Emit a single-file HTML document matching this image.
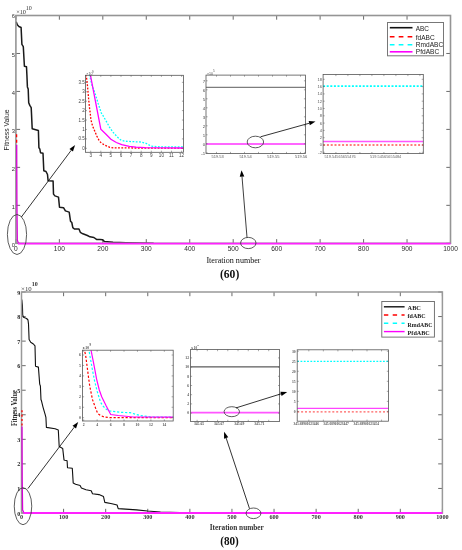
<!DOCTYPE html>
<html><head><meta charset="utf-8"><title>Fitness Value vs Iteration number</title>
<style>html,body{margin:0;padding:0;background:#fff;}svg{display:block;}</style></head>
<body><svg width="462" height="550" viewBox="0 0 462 550">
<rect width="462" height="550" fill="#fff"/>
<line x1="15.9" y1="243.3" x2="15.9" y2="239.1" stroke="#6a6a6a" stroke-width="1.0" />
<line x1="15.9" y1="15.5" x2="15.9" y2="19.7" stroke="#6a6a6a" stroke-width="1.0" />
<line x1="59.36" y1="243.3" x2="59.36" y2="239.1" stroke="#6a6a6a" stroke-width="1.0" />
<line x1="59.36" y1="15.5" x2="59.36" y2="19.7" stroke="#6a6a6a" stroke-width="1.0" />
<line x1="102.82" y1="243.3" x2="102.82" y2="239.1" stroke="#6a6a6a" stroke-width="1.0" />
<line x1="102.82" y1="15.5" x2="102.82" y2="19.7" stroke="#6a6a6a" stroke-width="1.0" />
<line x1="146.28" y1="243.3" x2="146.28" y2="239.1" stroke="#6a6a6a" stroke-width="1.0" />
<line x1="146.28" y1="15.5" x2="146.28" y2="19.7" stroke="#6a6a6a" stroke-width="1.0" />
<line x1="189.74" y1="243.3" x2="189.74" y2="239.1" stroke="#6a6a6a" stroke-width="1.0" />
<line x1="189.74" y1="15.5" x2="189.74" y2="19.7" stroke="#6a6a6a" stroke-width="1.0" />
<line x1="233.2" y1="243.3" x2="233.2" y2="239.1" stroke="#6a6a6a" stroke-width="1.0" />
<line x1="233.2" y1="15.5" x2="233.2" y2="19.7" stroke="#6a6a6a" stroke-width="1.0" />
<line x1="276.66" y1="243.3" x2="276.66" y2="239.1" stroke="#6a6a6a" stroke-width="1.0" />
<line x1="276.66" y1="15.5" x2="276.66" y2="19.7" stroke="#6a6a6a" stroke-width="1.0" />
<line x1="320.12" y1="243.3" x2="320.12" y2="239.1" stroke="#6a6a6a" stroke-width="1.0" />
<line x1="320.12" y1="15.5" x2="320.12" y2="19.7" stroke="#6a6a6a" stroke-width="1.0" />
<line x1="363.58" y1="243.3" x2="363.58" y2="239.1" stroke="#6a6a6a" stroke-width="1.0" />
<line x1="363.58" y1="15.5" x2="363.58" y2="19.7" stroke="#6a6a6a" stroke-width="1.0" />
<line x1="407.04" y1="243.3" x2="407.04" y2="239.1" stroke="#6a6a6a" stroke-width="1.0" />
<line x1="407.04" y1="15.5" x2="407.04" y2="19.7" stroke="#6a6a6a" stroke-width="1.0" />
<line x1="450.5" y1="243.3" x2="450.5" y2="239.1" stroke="#6a6a6a" stroke-width="1.0" />
<line x1="450.5" y1="15.5" x2="450.5" y2="19.7" stroke="#6a6a6a" stroke-width="1.0" />
<line x1="15.9" y1="243.3" x2="20.1" y2="243.3" stroke="#6a6a6a" stroke-width="1.0" />
<line x1="450.5" y1="243.3" x2="446.3" y2="243.3" stroke="#6a6a6a" stroke-width="1.0" />
<line x1="15.9" y1="205.33" x2="20.1" y2="205.33" stroke="#6a6a6a" stroke-width="1.0" />
<line x1="450.5" y1="205.33" x2="446.3" y2="205.33" stroke="#6a6a6a" stroke-width="1.0" />
<line x1="15.9" y1="167.37" x2="20.1" y2="167.37" stroke="#6a6a6a" stroke-width="1.0" />
<line x1="450.5" y1="167.37" x2="446.3" y2="167.37" stroke="#6a6a6a" stroke-width="1.0" />
<line x1="15.9" y1="129.4" x2="20.1" y2="129.4" stroke="#6a6a6a" stroke-width="1.0" />
<line x1="450.5" y1="129.4" x2="446.3" y2="129.4" stroke="#6a6a6a" stroke-width="1.0" />
<line x1="15.9" y1="91.43" x2="20.1" y2="91.43" stroke="#6a6a6a" stroke-width="1.0" />
<line x1="450.5" y1="91.43" x2="446.3" y2="91.43" stroke="#6a6a6a" stroke-width="1.0" />
<line x1="15.9" y1="53.47" x2="20.1" y2="53.47" stroke="#6a6a6a" stroke-width="1.0" />
<line x1="450.5" y1="53.47" x2="446.3" y2="53.47" stroke="#6a6a6a" stroke-width="1.0" />
<line x1="15.9" y1="15.5" x2="20.1" y2="15.5" stroke="#6a6a6a" stroke-width="1.0" />
<line x1="450.5" y1="15.5" x2="446.3" y2="15.5" stroke="#6a6a6a" stroke-width="1.0" />
<path d="M16.2 21.8 L17.3 24.8 L18.9 26.5 L21.1 27.5 L21.9 44.4 L23.3 46.6 L24.4 66.3 L26.5 66.8 L26.9 75 L27.4 86.9 L28.2 89.1 L28.7 102.7 L29.8 105.4 L31.2 107.6 L31.5 113.6 L32.2 128.8 L38.4 130.4 L38.9 147.8 L39.8 148.9 L40.5 152.7 L43 153.3 L43.8 170.7 L46 171.5 L47.5 174.5 L48.1 180.7 L53.1 181.1 L53.5 194.1 L54.9 195.9 L58.5 197.1 L59.5 207.3 L63.5 207.7 L65.4 210.9 L69.2 212.1 L70.5 221.2 L71.8 222.5 L72.8 227.7 L74.4 229 L79 229 L80.3 232.3 L82.9 233.8 L87.4 235.5 L90 236.8 L93.9 237.5 L96.5 239.4 L100 239.5 L102.6 239.7 L104.3 241.4 L113 242.3 L126 242.7 L139.8 243 L153.7 243.2" fill="none" stroke="#1a1a1a" stroke-width="1.5" stroke-linejoin="round"/>
<rect x="15.9" y="15.5" width="434.6" height="227.8" fill="none" stroke="#959595" stroke-width="1.6"/>
<path d="M16.6 134.2 L16.7 145.3" fill="none" stroke="#ff0000" stroke-width="1.3" stroke-dasharray="3 2.5"/>
<path d="M16.7 144.8 L16.9 200 L17.3 240 L18.5 243.6" fill="none" stroke="#d800d8" stroke-width="1.3" />
<line x1="18" y1="243.6" x2="450.5" y2="243.6" stroke="#ff22ff" stroke-width="1.9" />
<text x="13.4" y="246.5" font-size="5.8" font-family="'Liberation Sans', Arial, sans-serif" text-anchor="middle" font-weight="normal" fill="#333" >0</text>
<text x="13.4" y="208.53" font-size="5.8" font-family="'Liberation Sans', Arial, sans-serif" text-anchor="middle" font-weight="normal" fill="#333" >1</text>
<text x="13.4" y="170.57" font-size="5.8" font-family="'Liberation Sans', Arial, sans-serif" text-anchor="middle" font-weight="normal" fill="#333" >2</text>
<text x="13.4" y="132.6" font-size="5.8" font-family="'Liberation Sans', Arial, sans-serif" text-anchor="middle" font-weight="normal" fill="#333" >3</text>
<text x="13.4" y="94.63" font-size="5.8" font-family="'Liberation Sans', Arial, sans-serif" text-anchor="middle" font-weight="normal" fill="#333" >4</text>
<text x="13.4" y="56.67" font-size="5.8" font-family="'Liberation Sans', Arial, sans-serif" text-anchor="middle" font-weight="normal" fill="#333" >5</text>
<text x="13.4" y="17.9" font-size="5.8" font-family="'Liberation Sans', Arial, sans-serif" text-anchor="middle" font-weight="normal" fill="#333" >6</text>
<text x="15.9" y="251.1" font-size="6.6" font-family="'Liberation Sans', Arial, sans-serif" text-anchor="middle" font-weight="normal" fill="#2a2a2a" >0</text>
<text x="59.36" y="251.1" font-size="6.6" font-family="'Liberation Sans', Arial, sans-serif" text-anchor="middle" font-weight="normal" fill="#2a2a2a" >100</text>
<text x="102.82" y="251.1" font-size="6.6" font-family="'Liberation Sans', Arial, sans-serif" text-anchor="middle" font-weight="normal" fill="#2a2a2a" >200</text>
<text x="146.28" y="251.1" font-size="6.6" font-family="'Liberation Sans', Arial, sans-serif" text-anchor="middle" font-weight="normal" fill="#2a2a2a" >300</text>
<text x="189.74" y="251.1" font-size="6.6" font-family="'Liberation Sans', Arial, sans-serif" text-anchor="middle" font-weight="normal" fill="#2a2a2a" >400</text>
<text x="233.2" y="251.1" font-size="6.6" font-family="'Liberation Sans', Arial, sans-serif" text-anchor="middle" font-weight="normal" fill="#2a2a2a" >500</text>
<text x="276.66" y="251.1" font-size="6.6" font-family="'Liberation Sans', Arial, sans-serif" text-anchor="middle" font-weight="normal" fill="#2a2a2a" >600</text>
<text x="320.12" y="251.1" font-size="6.6" font-family="'Liberation Sans', Arial, sans-serif" text-anchor="middle" font-weight="normal" fill="#2a2a2a" >700</text>
<text x="363.58" y="251.1" font-size="6.6" font-family="'Liberation Sans', Arial, sans-serif" text-anchor="middle" font-weight="normal" fill="#2a2a2a" >800</text>
<text x="407.04" y="251.1" font-size="6.6" font-family="'Liberation Sans', Arial, sans-serif" text-anchor="middle" font-weight="normal" fill="#2a2a2a" >900</text>
<text x="450.5" y="251.1" font-size="6.6" font-family="'Liberation Sans', Arial, sans-serif" text-anchor="middle" font-weight="normal" fill="#2a2a2a" >1000</text>
<text x="21.1" y="14.3" font-size="6.3" font-family="'Liberation Serif', 'Times New Roman', serif" text-anchor="middle" font-weight="normal" fill="#333" >&#215;10</text>
<text x="28.8" y="9.8" font-size="6" font-family="'Liberation Serif', 'Times New Roman', serif" text-anchor="middle" font-weight="normal" fill="#333" >10</text>
<text x="9.4" y="130" font-size="6.8" font-family="'Liberation Sans', Arial, sans-serif" text-anchor="middle" font-weight="normal" fill="#222" transform="rotate(-90 9.4 130)" textLength="41" lengthAdjust="spacingAndGlyphs">Fitness Value</text>
<text x="233.5" y="263" font-size="8.1" font-family="'Liberation Serif', 'Times New Roman', serif" text-anchor="middle" font-weight="normal" fill="#111" >Iteration number</text>
<text x="229.6" y="278" font-size="11.6" font-family="'Liberation Serif', 'Times New Roman', serif" text-anchor="middle" font-weight="bold" fill="#111" >(60)</text>
<rect x="387.5" y="22.5" width="56" height="33.3" fill="#fff" stroke="#777" stroke-width="1.0"/>
<line x1="389.8" y1="27.7" x2="412.5" y2="27.7" stroke="#111" stroke-width="1.6" />
<text x="415.8" y="30.6" font-size="6.3" font-family="'Liberation Sans', Arial, sans-serif" text-anchor="start" font-weight="normal" fill="#1a1a1a" textLength="13.2" lengthAdjust="spacingAndGlyphs">ABC</text>
<line x1="389.8" y1="36.8" x2="412.5" y2="36.8" stroke="#ff0000" stroke-width="1.6" stroke-dasharray="4.7 4.2"/>
<text x="415.8" y="39.8" font-size="6.3" font-family="'Liberation Sans', Arial, sans-serif" text-anchor="start" font-weight="normal" fill="#1a1a1a" textLength="18.9" lengthAdjust="spacingAndGlyphs">fdABC</text>
<line x1="389.8" y1="44.7" x2="412.5" y2="44.7" stroke="#00ffff" stroke-width="1.6" stroke-dasharray="4.7 4.2"/>
<text x="415.8" y="46.9" font-size="6.3" font-family="'Liberation Sans', Arial, sans-serif" text-anchor="start" font-weight="normal" fill="#1a1a1a" textLength="27.4" lengthAdjust="spacingAndGlyphs">RmdABC</text>
<line x1="389.8" y1="51.8" x2="412.5" y2="51.8" stroke="#ff00ff" stroke-width="1.6" />
<text x="415.8" y="53.7" font-size="6.3" font-family="'Liberation Sans', Arial, sans-serif" text-anchor="start" font-weight="normal" fill="#1a1a1a" textLength="23.5" lengthAdjust="spacingAndGlyphs">PfdABC</text>
<ellipse cx="17" cy="234.5" rx="9.6" ry="20" fill="none" stroke="#333" stroke-width="0.8"/>
<line x1="21.4" y1="217" x2="71.21" y2="150.31" stroke="#000" stroke-width="0.8" />
<path d="M75.1 145.1 L72.97 151.62 L69.45 148.99 Z" fill="#000"/>
<ellipse cx="248.3" cy="243" rx="7.7" ry="5.6" fill="none" stroke="#333" stroke-width="0.8"/>
<line x1="247" y1="237.4" x2="242.01" y2="176.58" stroke="#000" stroke-width="0.75" />
<path d="M241.5 170.3 L244.31 176.39 L239.72 176.77 Z" fill="#000"/>
<rect x="85.4" y="75.3" width="98.1" height="77" fill="#fff"/>
<clipPath id="c1"><rect x="85.4" y="75.3" width="98.1" height="77"/></clipPath>
<g clip-path="url(#c1)">
<path d="M86 74.5 L86.9 80.1 L87.6 87 L88.2 94.3 L88.9 101.7 L89.6 108.6 L90.1 112.1 L90.9 119.7 L92.5 125.7 L94.7 131.1 L96.8 136 L99 140.3 L101.2 143 L104.9 145.2 L109.8 147.3 L114.1 147.9 L184 148.2" fill="none" stroke="#ff0000" stroke-width="1.3" stroke-dasharray="1.8 1.5"/>
<path d="M89.4 74.5 L90.5 79.2 L92.2 86.1 L94 90.5 L95.3 94.3 L97 99.5 L98.3 103.9 L99.6 107.8 L101.3 113 L102.2 114.3 L106 120.8 L109.3 126.8 L112.5 131.6 L117.4 137.1 L121.2 140.3 L125 141.2 L131.5 141.6 L141 142 L146 143.3 L151 146.1 L161 146.9 L184 147" fill="none" stroke="#00ffff" stroke-width="1.3" stroke-dasharray="1.8 1.5"/>
<path d="M90.3 74.5 L100.8 129.2 L105.5 133.8 L110.9 139.2 L116.3 142.5 L121.7 144.6 L129.3 146.3 L136 147.1 L145 147.7 L184 148" fill="none" stroke="#ff00ff" stroke-width="1.3" />
</g>
<rect x="85.4" y="75.3" width="98.1" height="77" fill="none" stroke="#555" stroke-width="0.8"/>
<line x1="90.7" y1="152.3" x2="90.7" y2="150.7" stroke="#555" stroke-width="0.5" />
<line x1="90.7" y1="75.3" x2="90.7" y2="76.9" stroke="#555" stroke-width="0.5" />
<text x="90.7" y="157.4" font-size="4.6" font-family="'Liberation Sans', Arial, sans-serif" text-anchor="middle" font-weight="normal" fill="#444" >3</text>
<line x1="100.8" y1="152.3" x2="100.8" y2="150.7" stroke="#555" stroke-width="0.5" />
<line x1="100.8" y1="75.3" x2="100.8" y2="76.9" stroke="#555" stroke-width="0.5" />
<text x="100.8" y="157.4" font-size="4.6" font-family="'Liberation Sans', Arial, sans-serif" text-anchor="middle" font-weight="normal" fill="#444" >4</text>
<line x1="110.9" y1="152.3" x2="110.9" y2="150.7" stroke="#555" stroke-width="0.5" />
<line x1="110.9" y1="75.3" x2="110.9" y2="76.9" stroke="#555" stroke-width="0.5" />
<text x="110.9" y="157.4" font-size="4.6" font-family="'Liberation Sans', Arial, sans-serif" text-anchor="middle" font-weight="normal" fill="#444" >5</text>
<line x1="121" y1="152.3" x2="121" y2="150.7" stroke="#555" stroke-width="0.5" />
<line x1="121" y1="75.3" x2="121" y2="76.9" stroke="#555" stroke-width="0.5" />
<text x="121" y="157.4" font-size="4.6" font-family="'Liberation Sans', Arial, sans-serif" text-anchor="middle" font-weight="normal" fill="#444" >6</text>
<line x1="131.1" y1="152.3" x2="131.1" y2="150.7" stroke="#555" stroke-width="0.5" />
<line x1="131.1" y1="75.3" x2="131.1" y2="76.9" stroke="#555" stroke-width="0.5" />
<text x="131.1" y="157.4" font-size="4.6" font-family="'Liberation Sans', Arial, sans-serif" text-anchor="middle" font-weight="normal" fill="#444" >7</text>
<line x1="141.2" y1="152.3" x2="141.2" y2="150.7" stroke="#555" stroke-width="0.5" />
<line x1="141.2" y1="75.3" x2="141.2" y2="76.9" stroke="#555" stroke-width="0.5" />
<text x="141.2" y="157.4" font-size="4.6" font-family="'Liberation Sans', Arial, sans-serif" text-anchor="middle" font-weight="normal" fill="#444" >8</text>
<line x1="151.3" y1="152.3" x2="151.3" y2="150.7" stroke="#555" stroke-width="0.5" />
<line x1="151.3" y1="75.3" x2="151.3" y2="76.9" stroke="#555" stroke-width="0.5" />
<text x="151.3" y="157.4" font-size="4.6" font-family="'Liberation Sans', Arial, sans-serif" text-anchor="middle" font-weight="normal" fill="#444" >9</text>
<line x1="161.4" y1="152.3" x2="161.4" y2="150.7" stroke="#555" stroke-width="0.5" />
<line x1="161.4" y1="75.3" x2="161.4" y2="76.9" stroke="#555" stroke-width="0.5" />
<text x="161.4" y="157.4" font-size="4.6" font-family="'Liberation Sans', Arial, sans-serif" text-anchor="middle" font-weight="normal" fill="#444" >10</text>
<line x1="171.5" y1="152.3" x2="171.5" y2="150.7" stroke="#555" stroke-width="0.5" />
<line x1="171.5" y1="75.3" x2="171.5" y2="76.9" stroke="#555" stroke-width="0.5" />
<text x="171.5" y="157.4" font-size="4.6" font-family="'Liberation Sans', Arial, sans-serif" text-anchor="middle" font-weight="normal" fill="#444" >11</text>
<line x1="181.6" y1="152.3" x2="181.6" y2="150.7" stroke="#555" stroke-width="0.5" />
<line x1="181.6" y1="75.3" x2="181.6" y2="76.9" stroke="#555" stroke-width="0.5" />
<text x="181.6" y="157.4" font-size="4.6" font-family="'Liberation Sans', Arial, sans-serif" text-anchor="middle" font-weight="normal" fill="#444" >12</text>
<line x1="85.4" y1="148.3" x2="87" y2="148.3" stroke="#555" stroke-width="0.5" />
<line x1="183.5" y1="148.3" x2="181.9" y2="148.3" stroke="#555" stroke-width="0.5" />
<text x="84.8" y="149.9" font-size="4.5" font-family="'Liberation Sans', Arial, sans-serif" text-anchor="end" font-weight="normal" fill="#444" >0</text>
<line x1="85.4" y1="138.88" x2="87" y2="138.88" stroke="#555" stroke-width="0.5" />
<line x1="183.5" y1="138.88" x2="181.9" y2="138.88" stroke="#555" stroke-width="0.5" />
<text x="84.8" y="140.47" font-size="4.5" font-family="'Liberation Sans', Arial, sans-serif" text-anchor="end" font-weight="normal" fill="#444" >0.5</text>
<line x1="85.4" y1="129.45" x2="87" y2="129.45" stroke="#555" stroke-width="0.5" />
<line x1="183.5" y1="129.45" x2="181.9" y2="129.45" stroke="#555" stroke-width="0.5" />
<text x="84.8" y="131.05" font-size="4.5" font-family="'Liberation Sans', Arial, sans-serif" text-anchor="end" font-weight="normal" fill="#444" >1</text>
<line x1="85.4" y1="120.03" x2="87" y2="120.03" stroke="#555" stroke-width="0.5" />
<line x1="183.5" y1="120.03" x2="181.9" y2="120.03" stroke="#555" stroke-width="0.5" />
<text x="84.8" y="121.62" font-size="4.5" font-family="'Liberation Sans', Arial, sans-serif" text-anchor="end" font-weight="normal" fill="#444" >1.5</text>
<line x1="85.4" y1="110.6" x2="87" y2="110.6" stroke="#555" stroke-width="0.5" />
<line x1="183.5" y1="110.6" x2="181.9" y2="110.6" stroke="#555" stroke-width="0.5" />
<text x="84.8" y="112.2" font-size="4.5" font-family="'Liberation Sans', Arial, sans-serif" text-anchor="end" font-weight="normal" fill="#444" >2</text>
<line x1="85.4" y1="101.18" x2="87" y2="101.18" stroke="#555" stroke-width="0.5" />
<line x1="183.5" y1="101.18" x2="181.9" y2="101.18" stroke="#555" stroke-width="0.5" />
<text x="84.8" y="102.78" font-size="4.5" font-family="'Liberation Sans', Arial, sans-serif" text-anchor="end" font-weight="normal" fill="#444" >2.5</text>
<line x1="85.4" y1="91.75" x2="87" y2="91.75" stroke="#555" stroke-width="0.5" />
<line x1="183.5" y1="91.75" x2="181.9" y2="91.75" stroke="#555" stroke-width="0.5" />
<text x="84.8" y="93.35" font-size="4.5" font-family="'Liberation Sans', Arial, sans-serif" text-anchor="end" font-weight="normal" fill="#444" >3</text>
<line x1="85.4" y1="82.33" x2="87" y2="82.33" stroke="#555" stroke-width="0.5" />
<line x1="183.5" y1="82.33" x2="181.9" y2="82.33" stroke="#555" stroke-width="0.5" />
<text x="84.8" y="83.92" font-size="4.5" font-family="'Liberation Sans', Arial, sans-serif" text-anchor="end" font-weight="normal" fill="#444" >3.5</text>
<text x="89.4" y="74.7" font-size="3.6" font-family="'Liberation Sans', Arial, sans-serif" text-anchor="middle" font-weight="normal" fill="#555" >&#215;10</text>
<text x="92.9" y="72.7" font-size="3" font-family="'Liberation Sans', Arial, sans-serif" text-anchor="middle" font-weight="normal" fill="#555" >9</text>
<rect x="206" y="75.1" width="99.5" height="78.4" fill="#fff"/>
<line x1="206" y1="87.3" x2="305.5" y2="87.3" stroke="#333" stroke-width="0.8" />
<line x1="206" y1="144" x2="305.5" y2="144" stroke="#ff66ff" stroke-width="2.0" />
<rect x="206" y="75.1" width="99.5" height="78.4" fill="none" stroke="#555" stroke-width="0.8"/>
<line x1="216.5" y1="153.5" x2="216.5" y2="151.9" stroke="#555" stroke-width="0.5" />
<line x1="216.5" y1="75.1" x2="216.5" y2="76.7" stroke="#555" stroke-width="0.5" />
<line x1="230.5" y1="153.5" x2="230.5" y2="151.9" stroke="#555" stroke-width="0.5" />
<line x1="230.5" y1="75.1" x2="230.5" y2="76.7" stroke="#555" stroke-width="0.5" />
<line x1="244.5" y1="153.5" x2="244.5" y2="151.9" stroke="#555" stroke-width="0.5" />
<line x1="244.5" y1="75.1" x2="244.5" y2="76.7" stroke="#555" stroke-width="0.5" />
<line x1="258.5" y1="153.5" x2="258.5" y2="151.9" stroke="#555" stroke-width="0.5" />
<line x1="258.5" y1="75.1" x2="258.5" y2="76.7" stroke="#555" stroke-width="0.5" />
<line x1="272.5" y1="153.5" x2="272.5" y2="151.9" stroke="#555" stroke-width="0.5" />
<line x1="272.5" y1="75.1" x2="272.5" y2="76.7" stroke="#555" stroke-width="0.5" />
<line x1="286.5" y1="153.5" x2="286.5" y2="151.9" stroke="#555" stroke-width="0.5" />
<line x1="286.5" y1="75.1" x2="286.5" y2="76.7" stroke="#555" stroke-width="0.5" />
<line x1="300.5" y1="153.5" x2="300.5" y2="151.9" stroke="#555" stroke-width="0.5" />
<line x1="300.5" y1="75.1" x2="300.5" y2="76.7" stroke="#555" stroke-width="0.5" />
<text x="217.7" y="157.6" font-size="4" font-family="'Liberation Sans', Arial, sans-serif" text-anchor="middle" font-weight="normal" fill="#555" >519.53</text>
<text x="245.5" y="157.6" font-size="4" font-family="'Liberation Sans', Arial, sans-serif" text-anchor="middle" font-weight="normal" fill="#555" >519.54</text>
<text x="273.3" y="157.6" font-size="4" font-family="'Liberation Sans', Arial, sans-serif" text-anchor="middle" font-weight="normal" fill="#555" >519.55</text>
<text x="301.1" y="157.6" font-size="4" font-family="'Liberation Sans', Arial, sans-serif" text-anchor="middle" font-weight="normal" fill="#555" >519.56</text>
<line x1="206" y1="152.8" x2="207.6" y2="152.8" stroke="#555" stroke-width="0.5" />
<line x1="305.5" y1="152.8" x2="303.9" y2="152.8" stroke="#555" stroke-width="0.5" />
<text x="205.2" y="154.9" font-size="4.3" font-family="'Liberation Sans', Arial, sans-serif" text-anchor="end" font-weight="normal" fill="#444" >-1</text>
<line x1="206" y1="143.8" x2="207.6" y2="143.8" stroke="#555" stroke-width="0.5" />
<line x1="305.5" y1="143.8" x2="303.9" y2="143.8" stroke="#555" stroke-width="0.5" />
<text x="205.2" y="145.9" font-size="4.3" font-family="'Liberation Sans', Arial, sans-serif" text-anchor="end" font-weight="normal" fill="#444" >0</text>
<line x1="206" y1="134.8" x2="207.6" y2="134.8" stroke="#555" stroke-width="0.5" />
<line x1="305.5" y1="134.8" x2="303.9" y2="134.8" stroke="#555" stroke-width="0.5" />
<text x="205.2" y="136.9" font-size="4.3" font-family="'Liberation Sans', Arial, sans-serif" text-anchor="end" font-weight="normal" fill="#444" >1</text>
<line x1="206" y1="125.8" x2="207.6" y2="125.8" stroke="#555" stroke-width="0.5" />
<line x1="305.5" y1="125.8" x2="303.9" y2="125.8" stroke="#555" stroke-width="0.5" />
<text x="205.2" y="127.9" font-size="4.3" font-family="'Liberation Sans', Arial, sans-serif" text-anchor="end" font-weight="normal" fill="#444" >2</text>
<line x1="206" y1="116.8" x2="207.6" y2="116.8" stroke="#555" stroke-width="0.5" />
<line x1="305.5" y1="116.8" x2="303.9" y2="116.8" stroke="#555" stroke-width="0.5" />
<text x="205.2" y="118.9" font-size="4.3" font-family="'Liberation Sans', Arial, sans-serif" text-anchor="end" font-weight="normal" fill="#444" >3</text>
<line x1="206" y1="107.8" x2="207.6" y2="107.8" stroke="#555" stroke-width="0.5" />
<line x1="305.5" y1="107.8" x2="303.9" y2="107.8" stroke="#555" stroke-width="0.5" />
<text x="205.2" y="109.9" font-size="4.3" font-family="'Liberation Sans', Arial, sans-serif" text-anchor="end" font-weight="normal" fill="#444" >4</text>
<line x1="206" y1="98.8" x2="207.6" y2="98.8" stroke="#555" stroke-width="0.5" />
<line x1="305.5" y1="98.8" x2="303.9" y2="98.8" stroke="#555" stroke-width="0.5" />
<text x="205.2" y="100.9" font-size="4.3" font-family="'Liberation Sans', Arial, sans-serif" text-anchor="end" font-weight="normal" fill="#444" >5</text>
<line x1="206" y1="89.8" x2="207.6" y2="89.8" stroke="#555" stroke-width="0.5" />
<line x1="305.5" y1="89.8" x2="303.9" y2="89.8" stroke="#555" stroke-width="0.5" />
<text x="205.2" y="91.9" font-size="4.3" font-family="'Liberation Sans', Arial, sans-serif" text-anchor="end" font-weight="normal" fill="#444" >6</text>
<line x1="206" y1="80.8" x2="207.6" y2="80.8" stroke="#555" stroke-width="0.5" />
<line x1="305.5" y1="80.8" x2="303.9" y2="80.8" stroke="#555" stroke-width="0.5" />
<text x="205.2" y="82.9" font-size="4.3" font-family="'Liberation Sans', Arial, sans-serif" text-anchor="end" font-weight="normal" fill="#444" >7</text>
<text x="210" y="74.5" font-size="3.6" font-family="'Liberation Sans', Arial, sans-serif" text-anchor="middle" font-weight="normal" fill="#555" >&#215;10</text>
<text x="213.8" y="72.3" font-size="3" font-family="'Liberation Sans', Arial, sans-serif" text-anchor="middle" font-weight="normal" fill="#555" >5</text>
<ellipse cx="255.4" cy="142" rx="8.2" ry="5.8" fill="none" stroke="#333" stroke-width="0.8"/>
<line x1="260.5" y1="136.8" x2="309.24" y2="123.24" stroke="#000" stroke-width="0.8" />
<path d="M315.5 121.5 L309.83 125.36 L308.65 121.12 Z" fill="#000"/>
<rect x="323.1" y="74.5" width="100.2" height="79.1" fill="#fff"/>
<line x1="323.1" y1="86.1" x2="423.3" y2="86.1" stroke="#00ffff" stroke-width="1.7" stroke-dasharray="2 1.6"/>
<line x1="323.1" y1="141.4" x2="423.3" y2="141.4" stroke="#ff55ff" stroke-width="1.5" />
<line x1="323.1" y1="145" x2="423.3" y2="145" stroke="#ff5050" stroke-width="1.6" stroke-dasharray="2 1.8"/>
<rect x="323.1" y="74.5" width="100.2" height="79.1" fill="none" stroke="#555" stroke-width="0.8"/>
<line x1="335.9" y1="153.6" x2="335.9" y2="152" stroke="#555" stroke-width="0.5" />
<line x1="335.9" y1="74.5" x2="335.9" y2="76.1" stroke="#555" stroke-width="0.5" />
<line x1="347.9" y1="153.6" x2="347.9" y2="152" stroke="#555" stroke-width="0.5" />
<line x1="347.9" y1="74.5" x2="347.9" y2="76.1" stroke="#555" stroke-width="0.5" />
<line x1="359.9" y1="153.6" x2="359.9" y2="152" stroke="#555" stroke-width="0.5" />
<line x1="359.9" y1="74.5" x2="359.9" y2="76.1" stroke="#555" stroke-width="0.5" />
<line x1="371.9" y1="153.6" x2="371.9" y2="152" stroke="#555" stroke-width="0.5" />
<line x1="371.9" y1="74.5" x2="371.9" y2="76.1" stroke="#555" stroke-width="0.5" />
<line x1="383.9" y1="153.6" x2="383.9" y2="152" stroke="#555" stroke-width="0.5" />
<line x1="383.9" y1="74.5" x2="383.9" y2="76.1" stroke="#555" stroke-width="0.5" />
<line x1="395.9" y1="153.6" x2="395.9" y2="152" stroke="#555" stroke-width="0.5" />
<line x1="395.9" y1="74.5" x2="395.9" y2="76.1" stroke="#555" stroke-width="0.5" />
<line x1="407.9" y1="153.6" x2="407.9" y2="152" stroke="#555" stroke-width="0.5" />
<line x1="407.9" y1="74.5" x2="407.9" y2="76.1" stroke="#555" stroke-width="0.5" />
<line x1="419.9" y1="153.6" x2="419.9" y2="152" stroke="#555" stroke-width="0.5" />
<line x1="419.9" y1="74.5" x2="419.9" y2="76.1" stroke="#555" stroke-width="0.5" />
<line x1="323.1" y1="152.3" x2="324.7" y2="152.3" stroke="#555" stroke-width="0.5" />
<line x1="423.3" y1="152.3" x2="421.7" y2="152.3" stroke="#555" stroke-width="0.5" />
<text x="321.9" y="153.7" font-size="4" font-family="'Liberation Sans', Arial, sans-serif" text-anchor="end" font-weight="normal" fill="#555" >-2</text>
<line x1="323.1" y1="145" x2="324.7" y2="145" stroke="#555" stroke-width="0.5" />
<line x1="423.3" y1="145" x2="421.7" y2="145" stroke="#555" stroke-width="0.5" />
<text x="321.9" y="146.4" font-size="4" font-family="'Liberation Sans', Arial, sans-serif" text-anchor="end" font-weight="normal" fill="#555" >0</text>
<line x1="323.1" y1="137.7" x2="324.7" y2="137.7" stroke="#555" stroke-width="0.5" />
<line x1="423.3" y1="137.7" x2="421.7" y2="137.7" stroke="#555" stroke-width="0.5" />
<text x="321.9" y="139.1" font-size="4" font-family="'Liberation Sans', Arial, sans-serif" text-anchor="end" font-weight="normal" fill="#555" >2</text>
<line x1="323.1" y1="130.4" x2="324.7" y2="130.4" stroke="#555" stroke-width="0.5" />
<line x1="423.3" y1="130.4" x2="421.7" y2="130.4" stroke="#555" stroke-width="0.5" />
<text x="321.9" y="131.8" font-size="4" font-family="'Liberation Sans', Arial, sans-serif" text-anchor="end" font-weight="normal" fill="#555" >4</text>
<line x1="323.1" y1="123.1" x2="324.7" y2="123.1" stroke="#555" stroke-width="0.5" />
<line x1="423.3" y1="123.1" x2="421.7" y2="123.1" stroke="#555" stroke-width="0.5" />
<text x="321.9" y="124.5" font-size="4" font-family="'Liberation Sans', Arial, sans-serif" text-anchor="end" font-weight="normal" fill="#555" >6</text>
<line x1="323.1" y1="115.8" x2="324.7" y2="115.8" stroke="#555" stroke-width="0.5" />
<line x1="423.3" y1="115.8" x2="421.7" y2="115.8" stroke="#555" stroke-width="0.5" />
<text x="321.9" y="117.2" font-size="4" font-family="'Liberation Sans', Arial, sans-serif" text-anchor="end" font-weight="normal" fill="#555" >8</text>
<line x1="323.1" y1="108.5" x2="324.7" y2="108.5" stroke="#555" stroke-width="0.5" />
<line x1="423.3" y1="108.5" x2="421.7" y2="108.5" stroke="#555" stroke-width="0.5" />
<text x="321.9" y="109.9" font-size="4" font-family="'Liberation Sans', Arial, sans-serif" text-anchor="end" font-weight="normal" fill="#555" >10</text>
<line x1="323.1" y1="101.2" x2="324.7" y2="101.2" stroke="#555" stroke-width="0.5" />
<line x1="423.3" y1="101.2" x2="421.7" y2="101.2" stroke="#555" stroke-width="0.5" />
<text x="321.9" y="102.6" font-size="4" font-family="'Liberation Sans', Arial, sans-serif" text-anchor="end" font-weight="normal" fill="#555" >12</text>
<line x1="323.1" y1="93.9" x2="324.7" y2="93.9" stroke="#555" stroke-width="0.5" />
<line x1="423.3" y1="93.9" x2="421.7" y2="93.9" stroke="#555" stroke-width="0.5" />
<text x="321.9" y="95.3" font-size="4" font-family="'Liberation Sans', Arial, sans-serif" text-anchor="end" font-weight="normal" fill="#555" >14</text>
<line x1="323.1" y1="86.6" x2="324.7" y2="86.6" stroke="#555" stroke-width="0.5" />
<line x1="423.3" y1="86.6" x2="421.7" y2="86.6" stroke="#555" stroke-width="0.5" />
<text x="321.9" y="88" font-size="4" font-family="'Liberation Sans', Arial, sans-serif" text-anchor="end" font-weight="normal" fill="#555" >16</text>
<line x1="323.1" y1="79.3" x2="324.7" y2="79.3" stroke="#555" stroke-width="0.5" />
<line x1="423.3" y1="79.3" x2="421.7" y2="79.3" stroke="#555" stroke-width="0.5" />
<text x="321.9" y="80.7" font-size="4" font-family="'Liberation Sans', Arial, sans-serif" text-anchor="end" font-weight="normal" fill="#555" >18</text>
<text x="340.1" y="157.9" font-size="3.9" font-family="'Liberation Sans', Arial, sans-serif" text-anchor="middle" font-weight="normal" fill="#666" >519.54565655476</text>
<text x="385.6" y="157.9" font-size="3.9" font-family="'Liberation Sans', Arial, sans-serif" text-anchor="middle" font-weight="normal" fill="#666" >519.54565655484</text>
<line x1="21.5" y1="513" x2="21.5" y2="508.8" stroke="#6a6a6a" stroke-width="1.0" />
<line x1="21.5" y1="292" x2="21.5" y2="296.2" stroke="#6a6a6a" stroke-width="1.0" />
<line x1="63.59" y1="513" x2="63.59" y2="508.8" stroke="#6a6a6a" stroke-width="1.0" />
<line x1="63.59" y1="292" x2="63.59" y2="296.2" stroke="#6a6a6a" stroke-width="1.0" />
<line x1="105.68" y1="513" x2="105.68" y2="508.8" stroke="#6a6a6a" stroke-width="1.0" />
<line x1="105.68" y1="292" x2="105.68" y2="296.2" stroke="#6a6a6a" stroke-width="1.0" />
<line x1="147.77" y1="513" x2="147.77" y2="508.8" stroke="#6a6a6a" stroke-width="1.0" />
<line x1="147.77" y1="292" x2="147.77" y2="296.2" stroke="#6a6a6a" stroke-width="1.0" />
<line x1="189.86" y1="513" x2="189.86" y2="508.8" stroke="#6a6a6a" stroke-width="1.0" />
<line x1="189.86" y1="292" x2="189.86" y2="296.2" stroke="#6a6a6a" stroke-width="1.0" />
<line x1="231.95" y1="513" x2="231.95" y2="508.8" stroke="#6a6a6a" stroke-width="1.0" />
<line x1="231.95" y1="292" x2="231.95" y2="296.2" stroke="#6a6a6a" stroke-width="1.0" />
<line x1="274.04" y1="513" x2="274.04" y2="508.8" stroke="#6a6a6a" stroke-width="1.0" />
<line x1="274.04" y1="292" x2="274.04" y2="296.2" stroke="#6a6a6a" stroke-width="1.0" />
<line x1="316.13" y1="513" x2="316.13" y2="508.8" stroke="#6a6a6a" stroke-width="1.0" />
<line x1="316.13" y1="292" x2="316.13" y2="296.2" stroke="#6a6a6a" stroke-width="1.0" />
<line x1="358.22" y1="513" x2="358.22" y2="508.8" stroke="#6a6a6a" stroke-width="1.0" />
<line x1="358.22" y1="292" x2="358.22" y2="296.2" stroke="#6a6a6a" stroke-width="1.0" />
<line x1="400.31" y1="513" x2="400.31" y2="508.8" stroke="#6a6a6a" stroke-width="1.0" />
<line x1="400.31" y1="292" x2="400.31" y2="296.2" stroke="#6a6a6a" stroke-width="1.0" />
<line x1="442.4" y1="513" x2="442.4" y2="508.8" stroke="#6a6a6a" stroke-width="1.0" />
<line x1="442.4" y1="292" x2="442.4" y2="296.2" stroke="#6a6a6a" stroke-width="1.0" />
<line x1="21.5" y1="513" x2="25.7" y2="513" stroke="#6a6a6a" stroke-width="1.0" />
<line x1="442.4" y1="513" x2="438.2" y2="513" stroke="#6a6a6a" stroke-width="1.0" />
<line x1="21.5" y1="488.44" x2="25.7" y2="488.44" stroke="#6a6a6a" stroke-width="1.0" />
<line x1="442.4" y1="488.44" x2="438.2" y2="488.44" stroke="#6a6a6a" stroke-width="1.0" />
<line x1="21.5" y1="463.89" x2="25.7" y2="463.89" stroke="#6a6a6a" stroke-width="1.0" />
<line x1="442.4" y1="463.89" x2="438.2" y2="463.89" stroke="#6a6a6a" stroke-width="1.0" />
<line x1="21.5" y1="439.33" x2="25.7" y2="439.33" stroke="#6a6a6a" stroke-width="1.0" />
<line x1="442.4" y1="439.33" x2="438.2" y2="439.33" stroke="#6a6a6a" stroke-width="1.0" />
<line x1="21.5" y1="414.78" x2="25.7" y2="414.78" stroke="#6a6a6a" stroke-width="1.0" />
<line x1="442.4" y1="414.78" x2="438.2" y2="414.78" stroke="#6a6a6a" stroke-width="1.0" />
<line x1="21.5" y1="390.22" x2="25.7" y2="390.22" stroke="#6a6a6a" stroke-width="1.0" />
<line x1="442.4" y1="390.22" x2="438.2" y2="390.22" stroke="#6a6a6a" stroke-width="1.0" />
<line x1="21.5" y1="365.67" x2="25.7" y2="365.67" stroke="#6a6a6a" stroke-width="1.0" />
<line x1="442.4" y1="365.67" x2="438.2" y2="365.67" stroke="#6a6a6a" stroke-width="1.0" />
<line x1="21.5" y1="341.11" x2="25.7" y2="341.11" stroke="#6a6a6a" stroke-width="1.0" />
<line x1="442.4" y1="341.11" x2="438.2" y2="341.11" stroke="#6a6a6a" stroke-width="1.0" />
<line x1="21.5" y1="316.56" x2="25.7" y2="316.56" stroke="#6a6a6a" stroke-width="1.0" />
<line x1="442.4" y1="316.56" x2="438.2" y2="316.56" stroke="#6a6a6a" stroke-width="1.0" />
<line x1="21.5" y1="292" x2="25.7" y2="292" stroke="#6a6a6a" stroke-width="1.0" />
<line x1="442.4" y1="292" x2="438.2" y2="292" stroke="#6a6a6a" stroke-width="1.0" />
<path d="M21.8 299.5 L22.4 305 L22.7 315 L23.5 317.3 L26.6 318.5 L28 320 L28.5 324.1 L29.1 339.5 L30.7 342.3 L33.4 344 L35 345.9 L35.5 366.3 L38.4 367.1 L39.7 384.1 L40.4 386 L41 400 L41.3 400.1 L43 407.1 L45.2 414.7 L45.9 417.3 L46.4 427.4 L55.1 428.7 L58.3 430 L59.2 446.5 L62.7 448.4 L64 459.9 L64.9 460.2 L67.1 460.8 L67.5 467.7 L72.3 468.2 L73.2 482.9 L75.6 484.2 L80.1 485.5 L81.4 488.1 L86 489.8 L91.2 490.7 L92.5 493.7 L99 494.6 L103.5 496.6 L104.8 502.4 L112 503.7 L117.1 505 L118.2 508.6 L136.6 509.9 L147.5 511 L160.5 512 L180 512.5 L200 512.8" fill="none" stroke="#111" stroke-width="1.1" stroke-linejoin="round"/>
<rect x="21.5" y="292" width="420.9" height="221" fill="none" stroke="#999" stroke-width="1.5"/>
<path d="M22 410.2 L22 427.7" fill="none" stroke="#ff0000" stroke-width="1.3" stroke-dasharray="2.1 2.3"/>
<path d="M22 426.6 L22.2 480 L22.6 510 L24 513" fill="none" stroke="#d800d8" stroke-width="1.3" />
<line x1="23.5" y1="513" x2="442.4" y2="513" stroke="#ff22ff" stroke-width="2.0" />
<text x="18.8" y="515.6" font-size="6" font-family="'Liberation Serif', 'Times New Roman', serif" text-anchor="middle" font-weight="bold" fill="#222" >0</text>
<text x="18.8" y="491.04" font-size="6" font-family="'Liberation Serif', 'Times New Roman', serif" text-anchor="middle" font-weight="bold" fill="#222" >1</text>
<text x="18.8" y="466.49" font-size="6" font-family="'Liberation Serif', 'Times New Roman', serif" text-anchor="middle" font-weight="bold" fill="#222" >2</text>
<text x="18.8" y="441.93" font-size="6" font-family="'Liberation Serif', 'Times New Roman', serif" text-anchor="middle" font-weight="bold" fill="#222" >3</text>
<text x="18.8" y="417.38" font-size="6" font-family="'Liberation Serif', 'Times New Roman', serif" text-anchor="middle" font-weight="bold" fill="#222" >4</text>
<text x="18.8" y="392.82" font-size="6" font-family="'Liberation Serif', 'Times New Roman', serif" text-anchor="middle" font-weight="bold" fill="#222" >5</text>
<text x="18.8" y="368.27" font-size="6" font-family="'Liberation Serif', 'Times New Roman', serif" text-anchor="middle" font-weight="bold" fill="#222" >6</text>
<text x="18.8" y="343.71" font-size="6" font-family="'Liberation Serif', 'Times New Roman', serif" text-anchor="middle" font-weight="bold" fill="#222" >7</text>
<text x="18.8" y="319.16" font-size="6" font-family="'Liberation Serif', 'Times New Roman', serif" text-anchor="middle" font-weight="bold" fill="#222" >8</text>
<text x="18.8" y="294.6" font-size="6" font-family="'Liberation Serif', 'Times New Roman', serif" text-anchor="middle" font-weight="bold" fill="#222" >9</text>
<text x="21.5" y="519.3" font-size="6.2" font-family="'Liberation Serif', 'Times New Roman', serif" text-anchor="middle" font-weight="bold" fill="#333" >0</text>
<text x="63.59" y="519.3" font-size="6.2" font-family="'Liberation Serif', 'Times New Roman', serif" text-anchor="middle" font-weight="bold" fill="#333" >100</text>
<text x="105.68" y="519.3" font-size="6.2" font-family="'Liberation Serif', 'Times New Roman', serif" text-anchor="middle" font-weight="bold" fill="#333" >200</text>
<text x="147.77" y="519.3" font-size="6.2" font-family="'Liberation Serif', 'Times New Roman', serif" text-anchor="middle" font-weight="bold" fill="#333" >300</text>
<text x="189.86" y="519.3" font-size="6.2" font-family="'Liberation Serif', 'Times New Roman', serif" text-anchor="middle" font-weight="bold" fill="#333" >400</text>
<text x="231.95" y="519.3" font-size="6.2" font-family="'Liberation Serif', 'Times New Roman', serif" text-anchor="middle" font-weight="bold" fill="#333" >500</text>
<text x="274.04" y="519.3" font-size="6.2" font-family="'Liberation Serif', 'Times New Roman', serif" text-anchor="middle" font-weight="bold" fill="#333" >600</text>
<text x="316.13" y="519.3" font-size="6.2" font-family="'Liberation Serif', 'Times New Roman', serif" text-anchor="middle" font-weight="bold" fill="#333" >700</text>
<text x="358.22" y="519.3" font-size="6.2" font-family="'Liberation Serif', 'Times New Roman', serif" text-anchor="middle" font-weight="bold" fill="#333" >800</text>
<text x="400.31" y="519.3" font-size="6.2" font-family="'Liberation Serif', 'Times New Roman', serif" text-anchor="middle" font-weight="bold" fill="#333" >900</text>
<text x="442.4" y="519.3" font-size="6.2" font-family="'Liberation Serif', 'Times New Roman', serif" text-anchor="middle" font-weight="bold" fill="#333" >1000</text>
<text x="26.4" y="291.3" font-size="6.8" font-family="'Liberation Serif', 'Times New Roman', serif" text-anchor="middle" font-weight="normal" fill="#333" textLength="10.6" lengthAdjust="spacingAndGlyphs">&#215;10</text>
<text x="34.8" y="286.4" font-size="6" font-family="'Liberation Serif', 'Times New Roman', serif" text-anchor="middle" font-weight="bold" fill="#333" >10</text>
<text x="17" y="408.1" font-size="7.2" font-family="'Liberation Serif', 'Times New Roman', serif" text-anchor="middle" font-weight="bold" fill="#1a1a1a" transform="rotate(-90 17.0 408.1)" textLength="36" lengthAdjust="spacingAndGlyphs">Fitness Value</text>
<text x="236.8" y="529.6" font-size="7.3" font-family="'Liberation Serif', 'Times New Roman', serif" text-anchor="middle" font-weight="bold" fill="#333" >Iteration number</text>
<text x="229.5" y="545.4" font-size="12.4" font-family="'Liberation Serif', 'Times New Roman', serif" text-anchor="middle" font-weight="bold" fill="#111" textLength="18.6" lengthAdjust="spacingAndGlyphs">(80)</text>
<rect x="381.8" y="301.5" width="52.6" height="35.6" fill="#fff" stroke="#666" stroke-width="0.9"/>
<line x1="383.9" y1="306.8" x2="404.6" y2="306.8" stroke="#111" stroke-width="1.4" />
<text x="407.6" y="309.9" font-size="6.8" font-family="'Liberation Serif', 'Times New Roman', serif" text-anchor="start" font-weight="bold" fill="#1a1a1a" textLength="13.3" lengthAdjust="spacingAndGlyphs">ABC</text>
<line x1="383.9" y1="315.06" x2="404.6" y2="315.06" stroke="#ff0000" stroke-width="1.4" stroke-dasharray="4.4 4.4"/>
<text x="407.6" y="318.37" font-size="6.8" font-family="'Liberation Serif', 'Times New Roman', serif" text-anchor="start" font-weight="bold" fill="#1a1a1a" textLength="18.0" lengthAdjust="spacingAndGlyphs">fdABC</text>
<line x1="383.9" y1="323.32" x2="404.6" y2="323.32" stroke="#00ffff" stroke-width="1.4" stroke-dasharray="4.4 4.4"/>
<text x="407.6" y="326.84" font-size="6.8" font-family="'Liberation Serif', 'Times New Roman', serif" text-anchor="start" font-weight="bold" fill="#1a1a1a" textLength="24.8" lengthAdjust="spacingAndGlyphs">RmdABC</text>
<line x1="383.9" y1="331.58" x2="404.6" y2="331.58" stroke="#ff00ff" stroke-width="1.4" />
<text x="407.6" y="335.31" font-size="6.8" font-family="'Liberation Serif', 'Times New Roman', serif" text-anchor="start" font-weight="bold" fill="#1a1a1a" textLength="22.2" lengthAdjust="spacingAndGlyphs">PfdABC</text>
<ellipse cx="23" cy="506.2" rx="8.75" ry="18.5" fill="none" stroke="#333" stroke-width="0.8"/>
<line x1="27.9" y1="488.6" x2="74.28" y2="427.19" stroke="#000" stroke-width="0.8" />
<path d="M78.2 422 L76.04 428.51 L72.53 425.86 Z" fill="#000"/>
<ellipse cx="253.5" cy="513.3" rx="7.4" ry="5.3" fill="none" stroke="#333" stroke-width="0.8"/>
<line x1="249.5" y1="508.6" x2="226.14" y2="437.97" stroke="#000" stroke-width="0.8" />
<path d="M224.1 431.8 L228.23 437.28 L224.05 438.66 Z" fill="#000"/>
<rect x="82.5" y="350.2" width="90.7" height="70.8" fill="#fff"/>
<clipPath id="c2"><rect x="82.5" y="350.2" width="90.7" height="70.8"/></clipPath>
<g clip-path="url(#c2)">
<path d="M84 348 L85.6 355.2 L87 365.5 L88.4 376.4 L89.7 385.9 L92.5 399.6 L95.9 409.1 L97.7 413.5 L100.6 415.6 L104.2 417 L110 417.6 L175 417.7" fill="none" stroke="#ff0000" stroke-width="1.2" stroke-dasharray="2.2 1.8"/>
<path d="M88.6 348 L90.4 358.6 L92.5 370.2 L94.5 380.5 L97.2 391.4 L100.6 402.3 L103.1 406.2 L106 409 L109.6 411 L120 412.3 L130.2 412.7 L140 415.5 L150.8 417 L175 417" fill="none" stroke="#00ffff" stroke-width="1.2" stroke-dasharray="2.2 1.8"/>
<path d="M90.6 348 L93.8 364.1 L96.6 379.1 L99.3 390 L101.7 396.8 L106 405.5 L110.7 414.5 L118.3 415.5 L133.4 417 L175 417.2" fill="none" stroke="#ff00ff" stroke-width="1.2" />
</g>
<rect x="82.5" y="350.2" width="90.7" height="70.8" fill="none" stroke="#555" stroke-width="0.8"/>
<line x1="83.7" y1="421" x2="83.7" y2="419.4" stroke="#555" stroke-width="0.5" />
<line x1="83.7" y1="350.2" x2="83.7" y2="351.8" stroke="#555" stroke-width="0.5" />
<text x="83.7" y="425.5" font-size="3.8" font-family="'Liberation Serif', 'Times New Roman', serif" text-anchor="middle" font-weight="bold" fill="#555" >2</text>
<line x1="97.14" y1="421" x2="97.14" y2="419.4" stroke="#555" stroke-width="0.5" />
<line x1="97.14" y1="350.2" x2="97.14" y2="351.8" stroke="#555" stroke-width="0.5" />
<text x="97.14" y="425.5" font-size="3.8" font-family="'Liberation Serif', 'Times New Roman', serif" text-anchor="middle" font-weight="bold" fill="#555" >4</text>
<line x1="110.58" y1="421" x2="110.58" y2="419.4" stroke="#555" stroke-width="0.5" />
<line x1="110.58" y1="350.2" x2="110.58" y2="351.8" stroke="#555" stroke-width="0.5" />
<text x="110.58" y="425.5" font-size="3.8" font-family="'Liberation Serif', 'Times New Roman', serif" text-anchor="middle" font-weight="bold" fill="#555" >6</text>
<line x1="124.02" y1="421" x2="124.02" y2="419.4" stroke="#555" stroke-width="0.5" />
<line x1="124.02" y1="350.2" x2="124.02" y2="351.8" stroke="#555" stroke-width="0.5" />
<text x="124.02" y="425.5" font-size="3.8" font-family="'Liberation Serif', 'Times New Roman', serif" text-anchor="middle" font-weight="bold" fill="#555" >8</text>
<line x1="137.46" y1="421" x2="137.46" y2="419.4" stroke="#555" stroke-width="0.5" />
<line x1="137.46" y1="350.2" x2="137.46" y2="351.8" stroke="#555" stroke-width="0.5" />
<text x="137.46" y="425.5" font-size="3.8" font-family="'Liberation Serif', 'Times New Roman', serif" text-anchor="middle" font-weight="bold" fill="#555" >10</text>
<line x1="150.9" y1="421" x2="150.9" y2="419.4" stroke="#555" stroke-width="0.5" />
<line x1="150.9" y1="350.2" x2="150.9" y2="351.8" stroke="#555" stroke-width="0.5" />
<text x="150.9" y="425.5" font-size="3.8" font-family="'Liberation Serif', 'Times New Roman', serif" text-anchor="middle" font-weight="bold" fill="#555" >12</text>
<line x1="164.34" y1="421" x2="164.34" y2="419.4" stroke="#555" stroke-width="0.5" />
<line x1="164.34" y1="350.2" x2="164.34" y2="351.8" stroke="#555" stroke-width="0.5" />
<text x="164.34" y="425.5" font-size="3.8" font-family="'Liberation Serif', 'Times New Roman', serif" text-anchor="middle" font-weight="bold" fill="#555" >14</text>
<line x1="82.5" y1="417.7" x2="84.1" y2="417.7" stroke="#555" stroke-width="0.5" />
<line x1="173.2" y1="417.7" x2="171.6" y2="417.7" stroke="#555" stroke-width="0.5" />
<text x="81" y="419" font-size="3.8" font-family="'Liberation Serif', 'Times New Roman', serif" text-anchor="end" font-weight="bold" fill="#555" >0</text>
<line x1="82.5" y1="407.25" x2="84.1" y2="407.25" stroke="#555" stroke-width="0.5" />
<line x1="173.2" y1="407.25" x2="171.6" y2="407.25" stroke="#555" stroke-width="0.5" />
<text x="81" y="408.55" font-size="3.8" font-family="'Liberation Serif', 'Times New Roman', serif" text-anchor="end" font-weight="bold" fill="#555" >1</text>
<line x1="82.5" y1="396.8" x2="84.1" y2="396.8" stroke="#555" stroke-width="0.5" />
<line x1="173.2" y1="396.8" x2="171.6" y2="396.8" stroke="#555" stroke-width="0.5" />
<text x="81" y="398.1" font-size="3.8" font-family="'Liberation Serif', 'Times New Roman', serif" text-anchor="end" font-weight="bold" fill="#555" >2</text>
<line x1="82.5" y1="386.35" x2="84.1" y2="386.35" stroke="#555" stroke-width="0.5" />
<line x1="173.2" y1="386.35" x2="171.6" y2="386.35" stroke="#555" stroke-width="0.5" />
<text x="81" y="387.65" font-size="3.8" font-family="'Liberation Serif', 'Times New Roman', serif" text-anchor="end" font-weight="bold" fill="#555" >3</text>
<line x1="82.5" y1="375.9" x2="84.1" y2="375.9" stroke="#555" stroke-width="0.5" />
<line x1="173.2" y1="375.9" x2="171.6" y2="375.9" stroke="#555" stroke-width="0.5" />
<text x="81" y="377.2" font-size="3.8" font-family="'Liberation Serif', 'Times New Roman', serif" text-anchor="end" font-weight="bold" fill="#555" >4</text>
<line x1="82.5" y1="365.45" x2="84.1" y2="365.45" stroke="#555" stroke-width="0.5" />
<line x1="173.2" y1="365.45" x2="171.6" y2="365.45" stroke="#555" stroke-width="0.5" />
<text x="81" y="366.75" font-size="3.8" font-family="'Liberation Serif', 'Times New Roman', serif" text-anchor="end" font-weight="bold" fill="#555" >5</text>
<line x1="82.5" y1="355" x2="84.1" y2="355" stroke="#555" stroke-width="0.5" />
<line x1="173.2" y1="355" x2="171.6" y2="355" stroke="#555" stroke-width="0.5" />
<text x="81" y="356.3" font-size="3.8" font-family="'Liberation Serif', 'Times New Roman', serif" text-anchor="end" font-weight="bold" fill="#555" >6</text>
<text x="85.8" y="349.2" font-size="3.6" font-family="'Liberation Serif', 'Times New Roman', serif" text-anchor="middle" font-weight="bold" fill="#444" >x 10</text>
<text x="90.2" y="346" font-size="3" font-family="'Liberation Serif', 'Times New Roman', serif" text-anchor="middle" font-weight="bold" fill="#444" >9</text>
<rect x="190.5" y="349.6" width="89.1" height="71.8" fill="#fff"/>
<line x1="190.5" y1="366.9" x2="279.6" y2="366.9" stroke="#333" stroke-width="1.0" />
<line x1="190.5" y1="412.6" x2="279.6" y2="412.6" stroke="#ff55ff" stroke-width="1.6" />
<rect x="190.5" y="349.6" width="89.1" height="71.8" fill="none" stroke="#555" stroke-width="0.8"/>
<line x1="197.1" y1="421.4" x2="197.1" y2="419.8" stroke="#555" stroke-width="0.5" />
<line x1="197.1" y1="349.6" x2="197.1" y2="351.2" stroke="#555" stroke-width="0.5" />
<line x1="207.33" y1="421.4" x2="207.33" y2="419.8" stroke="#555" stroke-width="0.5" />
<line x1="207.33" y1="349.6" x2="207.33" y2="351.2" stroke="#555" stroke-width="0.5" />
<line x1="217.56" y1="421.4" x2="217.56" y2="419.8" stroke="#555" stroke-width="0.5" />
<line x1="217.56" y1="349.6" x2="217.56" y2="351.2" stroke="#555" stroke-width="0.5" />
<line x1="227.79" y1="421.4" x2="227.79" y2="419.8" stroke="#555" stroke-width="0.5" />
<line x1="227.79" y1="349.6" x2="227.79" y2="351.2" stroke="#555" stroke-width="0.5" />
<line x1="238.02" y1="421.4" x2="238.02" y2="419.8" stroke="#555" stroke-width="0.5" />
<line x1="238.02" y1="349.6" x2="238.02" y2="351.2" stroke="#555" stroke-width="0.5" />
<line x1="248.25" y1="421.4" x2="248.25" y2="419.8" stroke="#555" stroke-width="0.5" />
<line x1="248.25" y1="349.6" x2="248.25" y2="351.2" stroke="#555" stroke-width="0.5" />
<line x1="258.48" y1="421.4" x2="258.48" y2="419.8" stroke="#555" stroke-width="0.5" />
<line x1="258.48" y1="349.6" x2="258.48" y2="351.2" stroke="#555" stroke-width="0.5" />
<line x1="268.71" y1="421.4" x2="268.71" y2="419.8" stroke="#555" stroke-width="0.5" />
<line x1="268.71" y1="349.6" x2="268.71" y2="351.2" stroke="#555" stroke-width="0.5" />
<text x="199" y="425.3" font-size="3.7" font-family="'Liberation Serif', 'Times New Roman', serif" text-anchor="middle" font-weight="bold" fill="#555" >345.65</text>
<text x="219.1" y="425.3" font-size="3.7" font-family="'Liberation Serif', 'Times New Roman', serif" text-anchor="middle" font-weight="bold" fill="#555" >345.67</text>
<text x="239.2" y="425.3" font-size="3.7" font-family="'Liberation Serif', 'Times New Roman', serif" text-anchor="middle" font-weight="bold" fill="#555" >345.69</text>
<text x="259.3" y="425.3" font-size="3.7" font-family="'Liberation Serif', 'Times New Roman', serif" text-anchor="middle" font-weight="bold" fill="#555" >345.71</text>
<line x1="190.5" y1="413.1" x2="192.1" y2="413.1" stroke="#555" stroke-width="0.5" />
<line x1="279.6" y1="413.1" x2="278" y2="413.1" stroke="#555" stroke-width="0.5" />
<text x="189" y="414.4" font-size="3.7" font-family="'Liberation Serif', 'Times New Roman', serif" text-anchor="end" font-weight="bold" fill="#555" >0</text>
<line x1="190.5" y1="403.9" x2="192.1" y2="403.9" stroke="#555" stroke-width="0.5" />
<line x1="279.6" y1="403.9" x2="278" y2="403.9" stroke="#555" stroke-width="0.5" />
<text x="189" y="405.2" font-size="3.7" font-family="'Liberation Serif', 'Times New Roman', serif" text-anchor="end" font-weight="bold" fill="#555" >2</text>
<line x1="190.5" y1="394.7" x2="192.1" y2="394.7" stroke="#555" stroke-width="0.5" />
<line x1="279.6" y1="394.7" x2="278" y2="394.7" stroke="#555" stroke-width="0.5" />
<text x="189" y="396" font-size="3.7" font-family="'Liberation Serif', 'Times New Roman', serif" text-anchor="end" font-weight="bold" fill="#555" >4</text>
<line x1="190.5" y1="385.5" x2="192.1" y2="385.5" stroke="#555" stroke-width="0.5" />
<line x1="279.6" y1="385.5" x2="278" y2="385.5" stroke="#555" stroke-width="0.5" />
<text x="189" y="386.8" font-size="3.7" font-family="'Liberation Serif', 'Times New Roman', serif" text-anchor="end" font-weight="bold" fill="#555" >6</text>
<line x1="190.5" y1="376.3" x2="192.1" y2="376.3" stroke="#555" stroke-width="0.5" />
<line x1="279.6" y1="376.3" x2="278" y2="376.3" stroke="#555" stroke-width="0.5" />
<text x="189" y="377.6" font-size="3.7" font-family="'Liberation Serif', 'Times New Roman', serif" text-anchor="end" font-weight="bold" fill="#555" >8</text>
<line x1="190.5" y1="367.1" x2="192.1" y2="367.1" stroke="#555" stroke-width="0.5" />
<line x1="279.6" y1="367.1" x2="278" y2="367.1" stroke="#555" stroke-width="0.5" />
<text x="189" y="368.4" font-size="3.7" font-family="'Liberation Serif', 'Times New Roman', serif" text-anchor="end" font-weight="bold" fill="#555" >10</text>
<line x1="190.5" y1="357.9" x2="192.1" y2="357.9" stroke="#555" stroke-width="0.5" />
<line x1="279.6" y1="357.9" x2="278" y2="357.9" stroke="#555" stroke-width="0.5" />
<text x="189" y="359.2" font-size="3.7" font-family="'Liberation Serif', 'Times New Roman', serif" text-anchor="end" font-weight="bold" fill="#555" >12</text>
<text x="194.3" y="349" font-size="3.4" font-family="'Liberation Serif', 'Times New Roman', serif" text-anchor="middle" font-weight="bold" fill="#555" >x 10</text>
<text x="198.3" y="345.6" font-size="2.8" font-family="'Liberation Serif', 'Times New Roman', serif" text-anchor="middle" font-weight="bold" fill="#555" >8</text>
<ellipse cx="231.8" cy="411.7" rx="7.7" ry="5" fill="none" stroke="#333" stroke-width="0.8"/>
<line x1="236" y1="407.9" x2="281" y2="393.84" stroke="#000" stroke-width="0.8" />
<path d="M287.2 391.9 L281.65 395.94 L280.34 391.74 Z" fill="#000"/>
<rect x="297.2" y="349.8" width="91.2" height="71.4" fill="#fff"/>
<line x1="297.2" y1="361.4" x2="388.4" y2="361.4" stroke="#00ffff" stroke-width="1.2" stroke-dasharray="1.8 1.5"/>
<line x1="297.2" y1="408.4" x2="388.4" y2="408.4" stroke="#ff44ff" stroke-width="1.2" />
<line x1="297.2" y1="411.9" x2="388.4" y2="411.9" stroke="#ff6060" stroke-width="1.4" stroke-dasharray="2 1.9"/>
<rect x="297.2" y="349.8" width="91.2" height="71.4" fill="none" stroke="#555" stroke-width="0.8"/>
<line x1="308.8" y1="421.2" x2="308.8" y2="419.6" stroke="#555" stroke-width="0.5" />
<line x1="308.8" y1="349.8" x2="308.8" y2="351.4" stroke="#555" stroke-width="0.5" />
<line x1="323.35" y1="421.2" x2="323.35" y2="419.6" stroke="#555" stroke-width="0.5" />
<line x1="323.35" y1="349.8" x2="323.35" y2="351.4" stroke="#555" stroke-width="0.5" />
<line x1="337.9" y1="421.2" x2="337.9" y2="419.6" stroke="#555" stroke-width="0.5" />
<line x1="337.9" y1="349.8" x2="337.9" y2="351.4" stroke="#555" stroke-width="0.5" />
<line x1="352.45" y1="421.2" x2="352.45" y2="419.6" stroke="#555" stroke-width="0.5" />
<line x1="352.45" y1="349.8" x2="352.45" y2="351.4" stroke="#555" stroke-width="0.5" />
<line x1="367" y1="421.2" x2="367" y2="419.6" stroke="#555" stroke-width="0.5" />
<line x1="367" y1="349.8" x2="367" y2="351.4" stroke="#555" stroke-width="0.5" />
<line x1="381.55" y1="421.2" x2="381.55" y2="419.6" stroke="#555" stroke-width="0.5" />
<line x1="381.55" y1="349.8" x2="381.55" y2="351.4" stroke="#555" stroke-width="0.5" />
<line x1="297.2" y1="411.4" x2="298.8" y2="411.4" stroke="#555" stroke-width="0.5" />
<line x1="388.4" y1="411.4" x2="386.8" y2="411.4" stroke="#555" stroke-width="0.5" />
<text x="295.7" y="412.7" font-size="3.7" font-family="'Liberation Serif', 'Times New Roman', serif" text-anchor="end" font-weight="bold" fill="#555" >0</text>
<line x1="297.2" y1="401.37" x2="298.8" y2="401.37" stroke="#555" stroke-width="0.5" />
<line x1="388.4" y1="401.37" x2="386.8" y2="401.37" stroke="#555" stroke-width="0.5" />
<text x="295.7" y="402.67" font-size="3.7" font-family="'Liberation Serif', 'Times New Roman', serif" text-anchor="end" font-weight="bold" fill="#555" >5</text>
<line x1="297.2" y1="391.34" x2="298.8" y2="391.34" stroke="#555" stroke-width="0.5" />
<line x1="388.4" y1="391.34" x2="386.8" y2="391.34" stroke="#555" stroke-width="0.5" />
<text x="295.7" y="392.64" font-size="3.7" font-family="'Liberation Serif', 'Times New Roman', serif" text-anchor="end" font-weight="bold" fill="#555" >10</text>
<line x1="297.2" y1="381.31" x2="298.8" y2="381.31" stroke="#555" stroke-width="0.5" />
<line x1="388.4" y1="381.31" x2="386.8" y2="381.31" stroke="#555" stroke-width="0.5" />
<text x="295.7" y="382.61" font-size="3.7" font-family="'Liberation Serif', 'Times New Roman', serif" text-anchor="end" font-weight="bold" fill="#555" >15</text>
<line x1="297.2" y1="371.28" x2="298.8" y2="371.28" stroke="#555" stroke-width="0.5" />
<line x1="388.4" y1="371.28" x2="386.8" y2="371.28" stroke="#555" stroke-width="0.5" />
<text x="295.7" y="372.58" font-size="3.7" font-family="'Liberation Serif', 'Times New Roman', serif" text-anchor="end" font-weight="bold" fill="#555" >20</text>
<line x1="297.2" y1="361.25" x2="298.8" y2="361.25" stroke="#555" stroke-width="0.5" />
<line x1="388.4" y1="361.25" x2="386.8" y2="361.25" stroke="#555" stroke-width="0.5" />
<text x="295.7" y="362.55" font-size="3.7" font-family="'Liberation Serif', 'Times New Roman', serif" text-anchor="end" font-weight="bold" fill="#555" >25</text>
<line x1="297.2" y1="351.22" x2="298.8" y2="351.22" stroke="#555" stroke-width="0.5" />
<line x1="388.4" y1="351.22" x2="386.8" y2="351.22" stroke="#555" stroke-width="0.5" />
<text x="295.7" y="352.52" font-size="3.7" font-family="'Liberation Serif', 'Times New Roman', serif" text-anchor="end" font-weight="bold" fill="#555" >30</text>
<text x="306.2" y="425.3" font-size="3.5" font-family="'Liberation Serif', 'Times New Roman', serif" text-anchor="middle" font-weight="bold" fill="#555" >345.68901623446</text>
<text x="336" y="425.3" font-size="3.5" font-family="'Liberation Serif', 'Times New Roman', serif" text-anchor="middle" font-weight="bold" fill="#555" >345.68901623447</text>
<text x="366.2" y="425.3" font-size="3.5" font-family="'Liberation Serif', 'Times New Roman', serif" text-anchor="middle" font-weight="bold" fill="#555" >345.68901623454</text>
</svg></body></html>
